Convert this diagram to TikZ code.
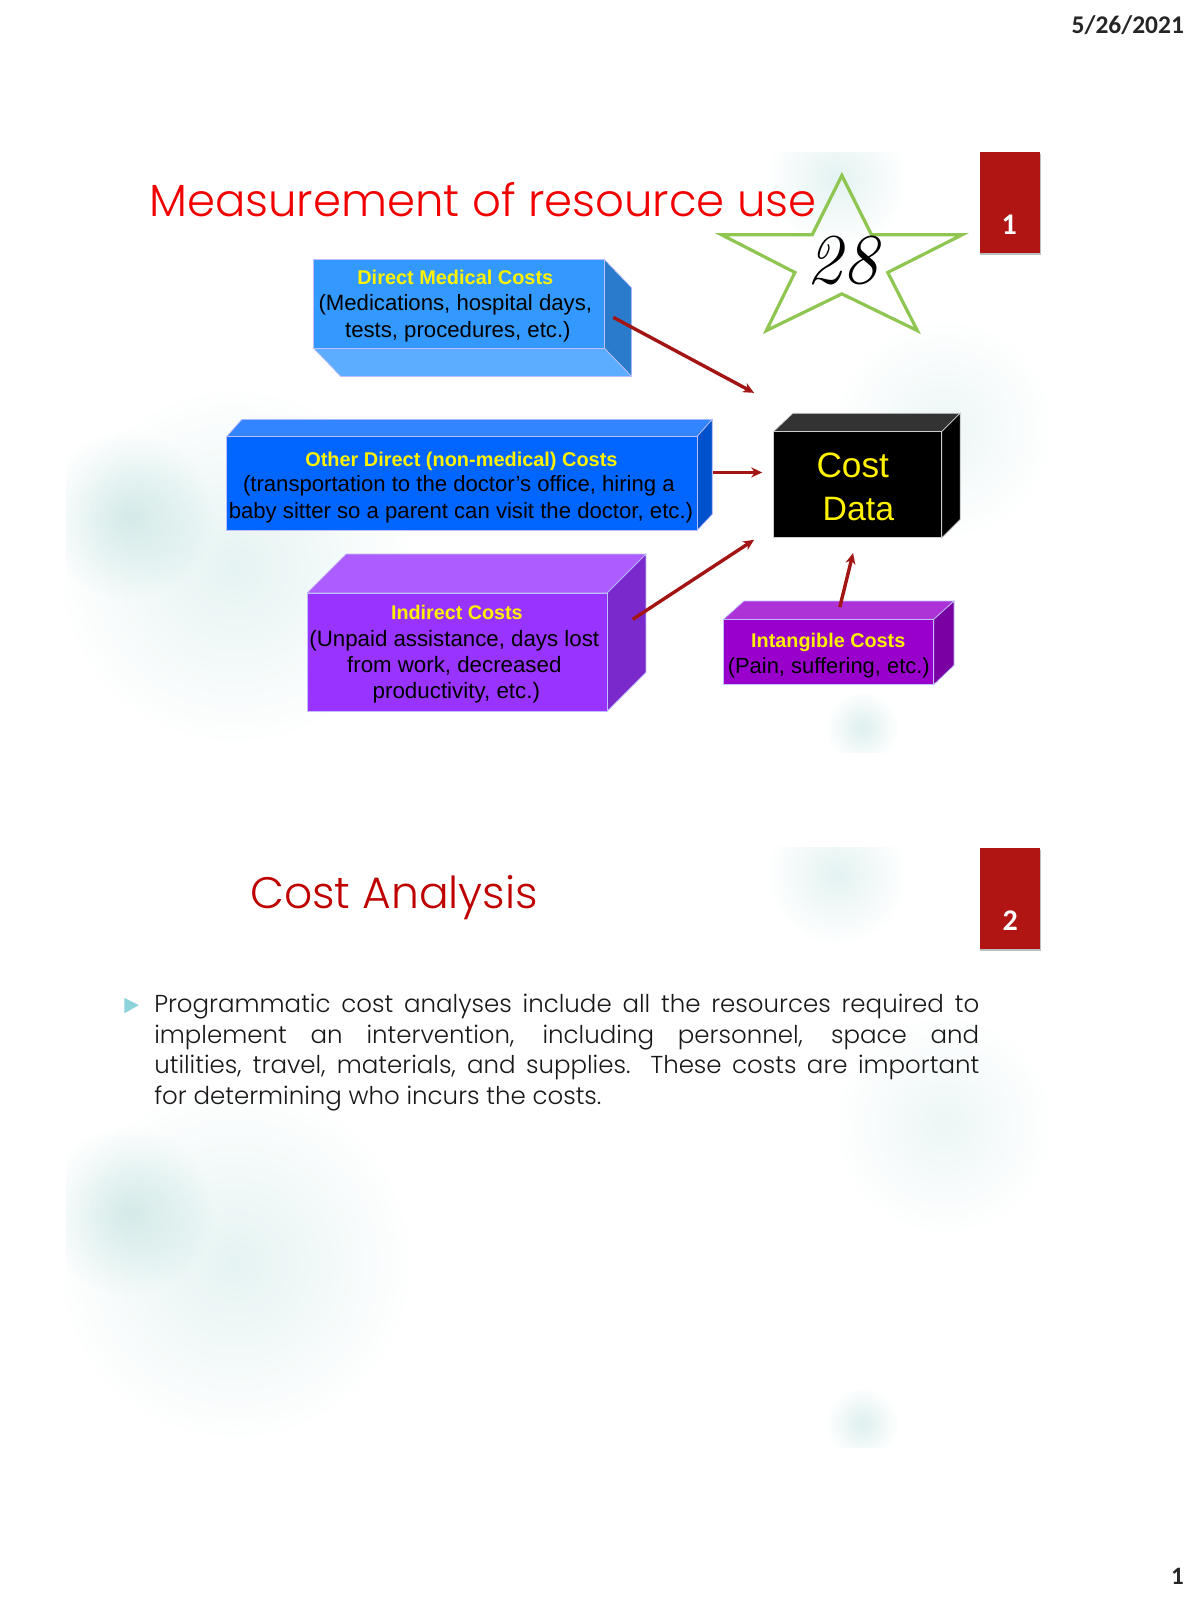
\documentclass[tikz,border=0pt]{standalone}
\usepackage{fontspec}
\usepackage{graphicx}
\usetikzlibrary{arrows.meta,fit,calc}
\setmainfont{Liberation Sans}
\newfontfamily\gothic{Poppins Light}
\newfontfamily\calib{Carlito}
\newfontfamily\numfont{Latin Modern Roman}
\definecolor{blob}{HTML}{DDEFEE}
\definecolor{blobd}{HTML}{DCEEED}
\definecolor{arrowred}{HTML}{A31515}
\definecolor{boxred}{HTML}{B01513}
\definecolor{stargreen}{HTML}{8FC651}
\definecolor{bulletc}{HTML}{8CD3DC}
\tikzset{
  face/.style={draw=white!75!blue,line width=.7pt,inner sep=0pt},
  frontface/.style={face,rectangle},
  link/.style={draw=arrowred,line width=3.4pt,-{Stealth[length=11pt,width=10pt]}},
  tag/.style={fill=boxred,inner sep=0pt},
  ln/.style={inner sep=0pt,anchor=base west},
}
% \tl{name}{x0}{x1}{baseline}{options}{text}
\newcommand{\tl}[6]{%
  \pgfmathsetlengthmacro\tw{(#3-#2)*1.0204}%
  \node[ln,#5] (#1) at (#2,#4) {\resizebox{\tw}{!}{#6}};}
\begin{document}
\begin{tikzpicture}[x=1.0204pt,y=-1.0204pt]
\useasboundingbox (0,0) rectangle (1176,1568);
\fill[white] (0,0) rectangle (1176,1568);
% backgrounds of the two slides
\foreach \dy in {0,682}{
  \begin{scope}
    \clip (65,149+\dy) rectangle (1030,737+\dy);
    \shade[inner color=blob!80,outer color=white,blend mode=multiply] (820,175+\dy) circle (70);
    \shade[inner color=blob!55,outer color=white,blend mode=multiply] (925,420+\dy) circle (110);
    \shade[inner color=blob!75,outer color=white,blend mode=multiply] (230,555+\dy) circle (178);
    \shade[inner color=blobd,outer color=white,blend mode=multiply] (125,505+\dy) circle (85);
    \shade[inner color=blob,outer color=white,blend mode=multiply] (845,713+\dy) circle (36);
  \end{scope}
}
% red tags
\fill[black!25] (960,151) rectangle (1020,250);
\fill[black!25] (960,833) rectangle (1020,932);
\node[tag,fit={(960,149)(1019,248)}] (tagone) {};
\node[tag,fit={(960,831)(1019,930)}] (tagtwo) {};
\node[inner sep=0pt,anchor=base,text=white,font=\calib\bfseries\fontsize{30}{30}\selectfont] (numone) at (989,230) {1};
\node[inner sep=0pt,anchor=base,text=white,font=\calib\bfseries\fontsize{30}{30}\selectfont] (numtwo) at (990,912) {2};
% header and footer
\tl{datehead}{1050}{1160}{33}{font=\calib\bfseries\fontsize{25}{25}\selectfont,text=black!85}{5/26/2021}
\node[inner sep=0pt,anchor=base,font=\calib\bfseries\fontsize{25}{25}\selectfont,text=black!85] (pagenum) at (1154,1553) {1};
% titles
\tl{titleone}{146}{800}{212}{font=\gothic\fontsize{42}{42}\selectfont,text=red!95!black}{Measurement of resource use}
\tl{titletwo}{245}{527}{890.5}{font=\gothic\fontsize{42}{42}\selectfont,text=red!75!black}{Cost Analysis}
% star
\draw[stargreen,line width=3.2pt,miter limit=10]
  (825,172) -- (854,230) -- (943,230) -- (870,267) -- (899,324) -- (825,288)
  -- (751,324) -- (779,267) -- (707,230) -- (796,230) -- cycle;
\tl{starnum}{790}{860}{278}{font=\numfont\itshape\fontsize{56}{56}\selectfont}{28}
% direct medical box
\fill[draw=white!75!blue,line width=.7pt,fill={rgb,255:red,43;green,123;blue,204}] (592,254) -- (619,282) -- (619,369) -- (592,341) -- cycle;
\fill[draw=white!75!blue,line width=.7pt,fill={rgb,255:red,92;green,173;blue,255}] (307,341) -- (592,341) -- (619,369) -- (334,369) -- cycle;
\node[frontface,fill={rgb,255:red,51;green,153;blue,255},fit={(307,254)(592,341)}] (direct) {};
\tl{directa}{350}{542}{279}{font=\bfseries,text=yellow}{Direct Medical Costs}
\tl{directb}{312}{580}{304}{}{(Medications, hospital days,}
\tl{directc}{338}{559}{331}{}{tests, procedures, etc.)}
% other direct box
\fill[draw=white!75!blue,line width=.7pt,fill={rgb,255:red,51;green,133;blue,255}] (222,428) -- (237,411) -- (698,411) -- (683,428) -- cycle;
\fill[draw=white!75!blue,line width=.7pt,fill={rgb,255:red,0;green,82;blue,204}] (683,428) -- (698,411) -- (698,504) -- (683,520) -- cycle;
\node[frontface,fill={rgb,255:red,0;green,102;blue,255},fit={(222,428)(683,520)}] (other) {};
\tl{othera}{299}{605}{457}{font=\bfseries,text=yellow}{Other Direct (non-medical) Costs}
\tl{otherb}{238}{661}{482}{}{(transportation to the doctor's office, hiring a}
\tl{otherc}{224}{679}{508}{}{baby sitter so a parent can visit the doctor, etc.)}
% indirect box
\fill[draw=white!75!blue,line width=.7pt,fill={rgb,255:red,173;green,92;blue,255}] (301,581) -- (339,543) -- (633,543) -- (595,581) -- cycle;
\fill[draw=white!75!blue,line width=.7pt,fill={rgb,255:red,122;green,41;blue,204}] (595,581) -- (633,543) -- (633,659) -- (595,697) -- cycle;
\node[frontface,fill={rgb,255:red,153;green,51;blue,255},fit={(301,581)(595,697)}] (indirect) {};
\tl{indirecta}{383}{512}{607}{font=\bfseries,text=yellow}{Indirect Costs}
\tl{indirectb}{303}{587}{634}{}{(Unpaid assistance, days lost}
\tl{indirectc}{340}{550}{659}{}{from work, decreased}
\tl{indirectd}{365}{529}{685}{}{productivity, etc.)}
% intangible box
\fill[draw=white!75!blue,line width=.7pt,fill={rgb,255:red,173;green,51;blue,214}] (709,607) -- (729,589) -- (935,589) -- (915,607) -- cycle;
\fill[draw=white!75!blue,line width=.7pt,fill={rgb,255:red,122;green,0;blue,163}] (915,607) -- (935,589) -- (935,652) -- (915,671) -- cycle;
\node[frontface,fill={rgb,255:red,153;green,0;blue,204},fit={(709,607)(915,671)}] (intang) {};
\tl{intanga}{736}{887}{635}{font=\bfseries,text=yellow}{Intangible Costs}
\tl{intangb}{713}{911}{660}{}{(Pain, suffering, etc.)}
% cost data box
\fill[draw=white!80!black,line width=.7pt,fill=black!80] (758,423) -- (777,405) -- (941,405) -- (923,423) -- cycle;
\fill[draw=white!80!black,line width=.7pt,fill=black] (923,423) -- (941,405) -- (941,509) -- (923,527) -- cycle;
\node[frontface,draw=white!80!black,fill=black,fit={(758,423)(923,527)}] (cost) {};
\tl{costa}{800}{871}{468}{text=yellow}{Cost}
\tl{costb}{806}{876}{510}{text=yellow}{Data}
% connectors
\coordinate (adirect) at (601,311);
\coordinate (aother) at (699,463);
\coordinate (aindirect) at (620,607);
\coordinate (aintang) at (823,595);
\coordinate (bdirect) at (739,385);
\coordinate (bother) at (747,463);
\coordinate (bindirect) at (739,529);
\coordinate (bintang) at (836,542);
\draw[link] (adirect) -- (bdirect);
\draw[link] (aother) -- (bother);
\draw[link] (aindirect) -- (bindirect);
\draw[link] (aintang) -- (bintang);
% body text
\fill[bulletc] (122,978) -- (136,985) -- (122,993) -- cycle;
\node[inner sep=0pt,anchor=north west,text width=825pt,align=justify,font=\gothic\fontsize{24.5}{30.6}\selectfont,text=black!90] (bodytext) at (151,974)
  {Programmatic cost analyses include all the resources required to\linebreak
   implement an intervention, including personnel, space and\linebreak
   utilities, travel, materials, and supplies. These costs are important\linebreak
   for determining who incurs the costs.};
\end{tikzpicture}
\end{document}
